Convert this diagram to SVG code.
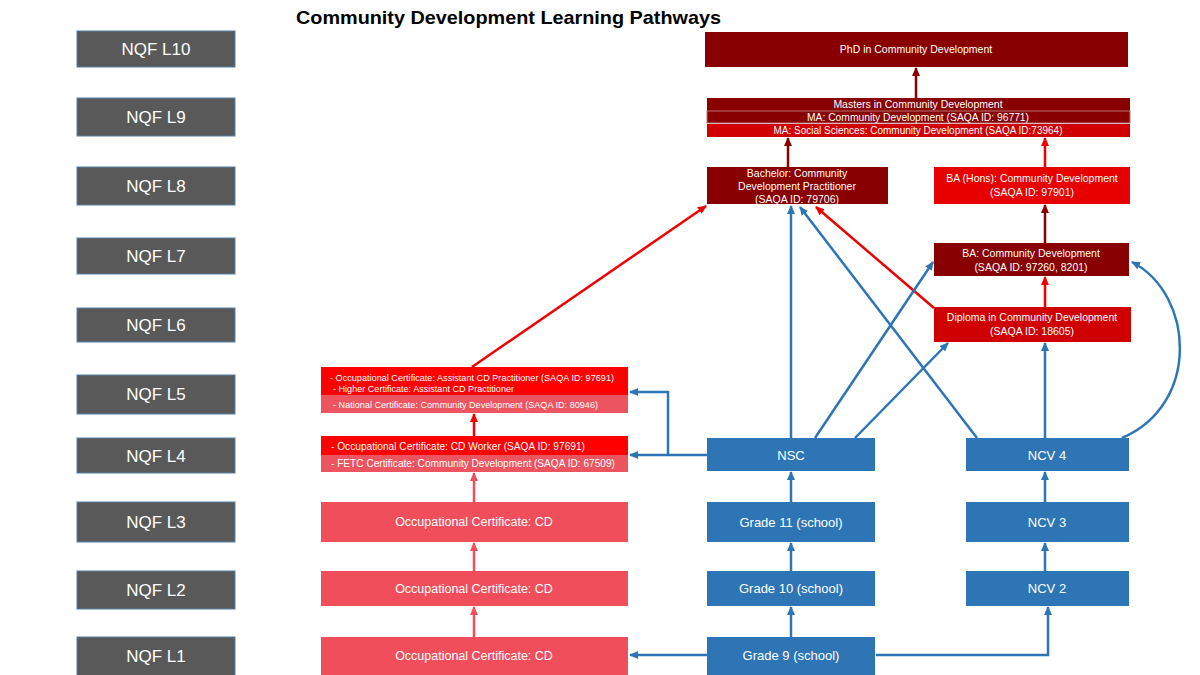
<svg xmlns="http://www.w3.org/2000/svg" width="1200" height="675" viewBox="0 0 1200 675">
<style>
.nqf{fill:#595959;stroke:#5b7ea6;stroke-width:1}
.nqft{font-family:"Liberation Sans",Arial,sans-serif;font-size:17px;fill:#fff;text-anchor:middle}
.t{font-family:"Liberation Sans",Arial,sans-serif;fill:#fff;text-anchor:middle}
.tl{font-family:"Liberation Sans",Arial,sans-serif;fill:#fff;text-anchor:start}
.blue{fill:#2E75B6}
.coral{fill:#F04E5A}
.dred{fill:#880000}
.bred{fill:#FF0000}
.lred{fill:#EC5560}
.cb{fill:none;stroke:#2E75B6;stroke-width:2.5}
.cr{fill:none;stroke:#F00000;stroke-width:2.5}
.cd{fill:none;stroke:#8B0000;stroke-width:2.5}
.cc{fill:none;stroke:#F04E5A;stroke-width:2.5}
</style>
<defs>
<marker id="ab" markerWidth="9" markerHeight="8" refX="8" refY="4" orient="auto" markerUnits="userSpaceOnUse"><path d="M0,0 L9,4 L0,8 z" fill="#2E75B6"/></marker>
<marker id="ar" markerWidth="9" markerHeight="8" refX="8" refY="4" orient="auto" markerUnits="userSpaceOnUse"><path d="M0,0 L9,4 L0,8 z" fill="#F00000"/></marker>
<marker id="ad" markerWidth="9" markerHeight="8" refX="8" refY="4" orient="auto" markerUnits="userSpaceOnUse"><path d="M0,0 L9,4 L0,8 z" fill="#8B0000"/></marker>
<marker id="ac" markerWidth="9" markerHeight="8" refX="8" refY="4" orient="auto" markerUnits="userSpaceOnUse"><path d="M0,0 L9,4 L0,8 z" fill="#F04E5A"/></marker>
</defs>
<rect width="1200" height="675" fill="#fff"/>
<text x="296" y="24" font-family="Liberation Sans,Arial,sans-serif" font-weight="bold" font-size="19" fill="#000" textLength="425" lengthAdjust="spacingAndGlyphs">Community Development Learning Pathways</text>

<g id="nqf-levels">
<g id="nqf10"><rect class="nqf" x="77" y="31" width="158" height="36"/><text class="nqft" x="156" y="55">NQF L10</text></g>
<g id="nqf9"><rect class="nqf" x="77" y="98" width="158" height="38"/><text class="nqft" x="156" y="123">NQF L9</text></g>
<g id="nqf8"><rect class="nqf" x="77" y="167" width="158" height="38"/><text class="nqft" x="156" y="192">NQF L8</text></g>
<g id="nqf7"><rect class="nqf" x="77" y="238" width="158" height="36"/><text class="nqft" x="156" y="262">NQF L7</text></g>
<g id="nqf6"><rect class="nqf" x="77" y="308" width="158" height="34"/><text class="nqft" x="156" y="331">NQF L6</text></g>
<g id="nqf5"><rect class="nqf" x="77" y="375" width="158" height="39"/><text class="nqft" x="156" y="400">NQF L5</text></g>
<g id="nqf4"><rect class="nqf" x="77" y="438" width="158" height="35"/><text class="nqft" x="156" y="462">NQF L4</text></g>
<g id="nqf3"><rect class="nqf" x="77" y="502" width="158" height="40"/><text class="nqft" x="156" y="528">NQF L3</text></g>
<g id="nqf2"><rect class="nqf" x="77" y="571" width="158" height="38"/><text class="nqft" x="156" y="596">NQF L2</text></g>
<g id="nqf1"><rect class="nqf" x="77" y="637" width="158" height="40"/><text class="nqft" x="156" y="662">NQF L1</text></g>
</g>

<g id="connectors">
<path class="cd" d="M916,98 V68" marker-end="url(#ad)"/>
<path class="cd" d="M788,167 V138" marker-end="url(#ad)"/>
<path class="cr" d="M1045,167 V138" marker-end="url(#ar)"/>
<path class="cd" d="M1045,243 V205" marker-end="url(#ad)"/>
<path class="cr" d="M1045,307 V277" marker-end="url(#ar)"/>
<path class="cr" d="M934,308 L816,207" marker-end="url(#ar)"/>
<path class="cr" d="M472,367 L706,206" marker-end="url(#ar)"/>
<path class="cr" d="M474,436 V414" marker-end="url(#ar)"/>
<path class="cc" d="M474,502 V473" marker-end="url(#ac)"/>
<path class="cc" d="M474,571 V543" marker-end="url(#ac)"/>
<path class="cc" d="M474,637 V607" marker-end="url(#ac)"/>
<path class="cb" d="M791,637 V607" marker-end="url(#ab)"/>
<path class="cb" d="M791,571 V543" marker-end="url(#ab)"/>
<path class="cb" d="M791,502 V472" marker-end="url(#ab)"/>
<path class="cb" d="M1045,571 V543" marker-end="url(#ab)"/>
<path class="cb" d="M1045,502 V472" marker-end="url(#ab)"/>
<path class="cb" d="M1045,438 V343" marker-end="url(#ab)"/>
<path class="cb" d="M707,655 H630" marker-end="url(#ab)"/>
<path class="cb" d="M876,655 H1048 V607" marker-end="url(#ab)"/>
<path class="cb" d="M707,455 H630" marker-end="url(#ab)"/>
<path class="cb" d="M668,455 V392 H630" marker-end="url(#ab)"/>
<path class="cb" d="M791,438 V206" marker-end="url(#ab)"/>
<path class="cb" d="M977,438 L800,207" marker-end="url(#ab)"/>
<path class="cb" d="M815,438 L933,262" marker-end="url(#ab)"/>
<path class="cb" d="M855,438 L948,343" marker-end="url(#ab)"/>
<path class="cb" d="M1122,438 C1200,405 1195,295 1132,262" marker-end="url(#ab)"/>
</g>

<g id="phd"><rect class="dred" x="705" y="32" width="423" height="35"/><text class="t" x="916" y="53" font-size="10.5">PhD in Community Development</text></g>

<g id="masters">
<rect class="dred" x="707" y="98" width="423" height="13"/>
<rect class="dred" x="707" y="111" width="423" height="12" stroke="#b87070" stroke-width="1"/>
<rect fill="#D00000" x="707" y="124" width="423" height="13"/>
<text class="t" x="918" y="108" font-size="10.5">Masters in Community Development</text>
<text class="t" x="918" y="121" font-size="10.3">MA: Community Development (SAQA ID: 96771)</text>
<text class="t" x="918" y="134" font-size="10">MA: Social Sciences: Community Development (SAQA ID:73964)</text>
</g>

<g id="bachelor"><rect class="dred" x="707" y="167" width="181" height="37"/>
<text class="t" x="797" y="177" font-size="10.5">Bachelor: Community</text>
<text class="t" x="797" y="190" font-size="10.5">Development Practitioner</text>
<text class="t" x="797" y="203" font-size="10.5">(SAQA ID: 79706)</text></g>

<g id="bahons"><rect fill="#E60000" x="934" y="167" width="196" height="37"/>
<text class="t" x="1032" y="182" font-size="10.5">BA (Hons): Community Development</text>
<text class="t" x="1032" y="196" font-size="10.5">(SAQA ID: 97901)</text></g>

<g id="bacd"><rect class="dred" x="934" y="243" width="195" height="33"/>
<text class="t" x="1031" y="257" font-size="10.5">BA: Community Development</text>
<text class="t" x="1031" y="271" font-size="10.5">(SAQA ID: 97260, 8201)</text></g>

<g id="diploma"><rect fill="#D00000" x="934" y="307" width="197" height="35"/>
<text class="t" x="1032" y="321" font-size="10.5">Diploma in Community Development</text>
<text class="t" x="1032" y="335" font-size="10.5">(SAQA ID: 18605)</text></g>

<g id="l5-certs">
<rect class="bred" x="321" y="367" width="307" height="28"/>
<rect class="lred" x="321" y="395" width="307" height="18"/>
<text class="tl" x="330" y="381" font-size="9.5" textLength="284" lengthAdjust="spacingAndGlyphs">- Occupational Certificate: Assistant CD Practitioner (SAQA ID: 97691)</text>
<text class="tl" x="333" y="392" font-size="9.5" textLength="181" lengthAdjust="spacingAndGlyphs">- Higher Certificate: Assistant CD Practitioner</text>
<text class="tl" x="333" y="408" font-size="9.5" textLength="265" lengthAdjust="spacingAndGlyphs">- National Certificate: Community Development (SAQA ID: 80946)</text>
</g>

<g id="l4-certs">
<rect class="bred" x="321" y="436" width="307" height="19"/>
<rect class="lred" x="321" y="455" width="307" height="17"/>
<text class="tl" x="331" y="450" font-size="10.5" textLength="254" lengthAdjust="spacingAndGlyphs">- Occupational Certificate: CD Worker (SAQA ID: 97691)</text>
<text class="tl" x="331" y="467" font-size="10.5" textLength="284" lengthAdjust="spacingAndGlyphs">- FETC Certificate: Community Development (SAQA ID: 67509)</text>
</g>

<g id="occ3"><rect class="coral" x="321" y="502" width="307" height="40"/><text class="t" x="474" y="526" font-size="12.5">Occupational Certificate: CD</text></g>
<g id="occ2"><rect class="coral" x="321" y="571" width="307" height="35"/><text class="t" x="474" y="593" font-size="12.5">Occupational Certificate: CD</text></g>
<g id="occ1"><rect class="coral" x="321" y="637" width="307" height="40"/><text class="t" x="474" y="660" font-size="12.5">Occupational Certificate: CD</text></g>

<g id="nsc"><rect class="blue" x="707" y="438" width="168" height="33"/><text class="t" x="791" y="460" font-size="13">NSC</text></g>
<g id="grade11"><rect class="blue" x="707" y="502" width="168" height="40"/><text class="t" x="791" y="527" font-size="13">Grade 11 (school)</text></g>
<g id="grade10"><rect class="blue" x="707" y="571" width="168" height="35"/><text class="t" x="791" y="593" font-size="13">Grade 10 (school)</text></g>
<g id="grade9"><rect class="blue" x="707" y="637" width="168" height="40"/><text class="t" x="791" y="660" font-size="13">Grade 9 (school)</text></g>
<g id="ncv4"><rect class="blue" x="966" y="438" width="163" height="33"/><text class="t" x="1047" y="460" font-size="13">NCV 4</text></g>
<g id="ncv3"><rect class="blue" x="966" y="502" width="163" height="40"/><text class="t" x="1047" y="527" font-size="13">NCV 3</text></g>
<g id="ncv2"><rect class="blue" x="966" y="571" width="163" height="35"/><text class="t" x="1047" y="593" font-size="13">NCV 2</text></g>
</svg>
